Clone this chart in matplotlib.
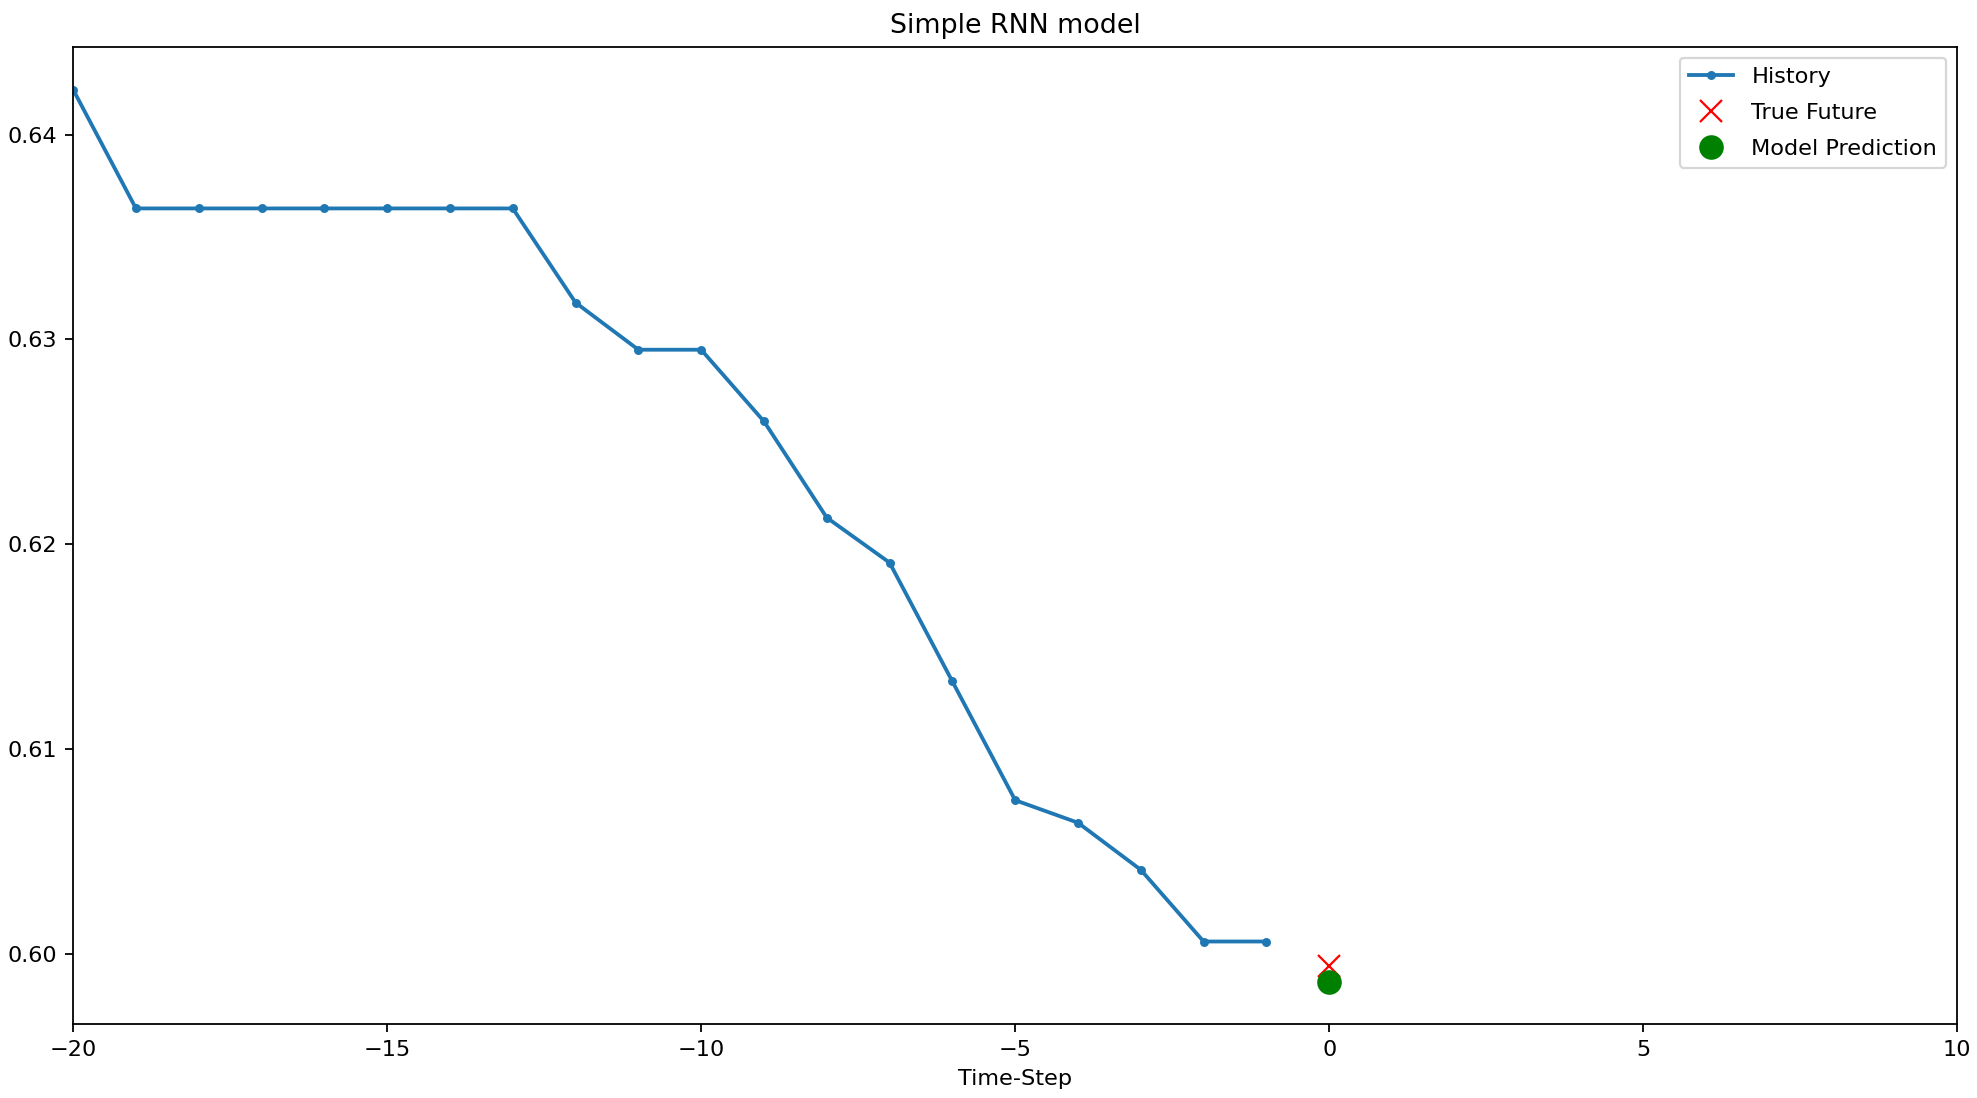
import matplotlib
matplotlib.use("Agg")
import matplotlib.pyplot as plt

# values
history_steps = list(range(-20, 0))
history_values = [0.6422, 0.6364, 0.6364, 0.6364, 0.6364, 0.6364, 0.6364, 0.6364,
                  0.6318, 0.6295, 0.6295, 0.6260, 0.6213, 0.6191, 0.6133, 0.6075,
                  0.6064, 0.6041, 0.6006, 0.6006]
future_step = [0]
true_future = [0.5994]
model_prediction = [0.5986]

DPI = 161
fig = plt.figure(figsize=(1977 / DPI, 1098 / DPI), dpi=DPI)
ax = fig.add_axes([0.037, 0.067, 0.953, 0.8905])

ax.plot(history_steps, history_values, ".-", lw=1.7, label="History")
ax.plot(future_step, true_future, "rx", markersize=10, label="True Future")
ax.plot(future_step, model_prediction, "go", markersize=10, label="Model Prediction")

ax.set_xlim(-20, 10)
ax.set_ylim(0.59655, 0.6443)
ax.set_yticks([0.60, 0.61, 0.62, 0.63, 0.64])
ax.set_title("Simple RNN model")
ax.set_xlabel("Time-Step")
ax.legend(loc="upper right", labelspacing=0.72)

fig.savefig("out.png", dpi=DPI)
